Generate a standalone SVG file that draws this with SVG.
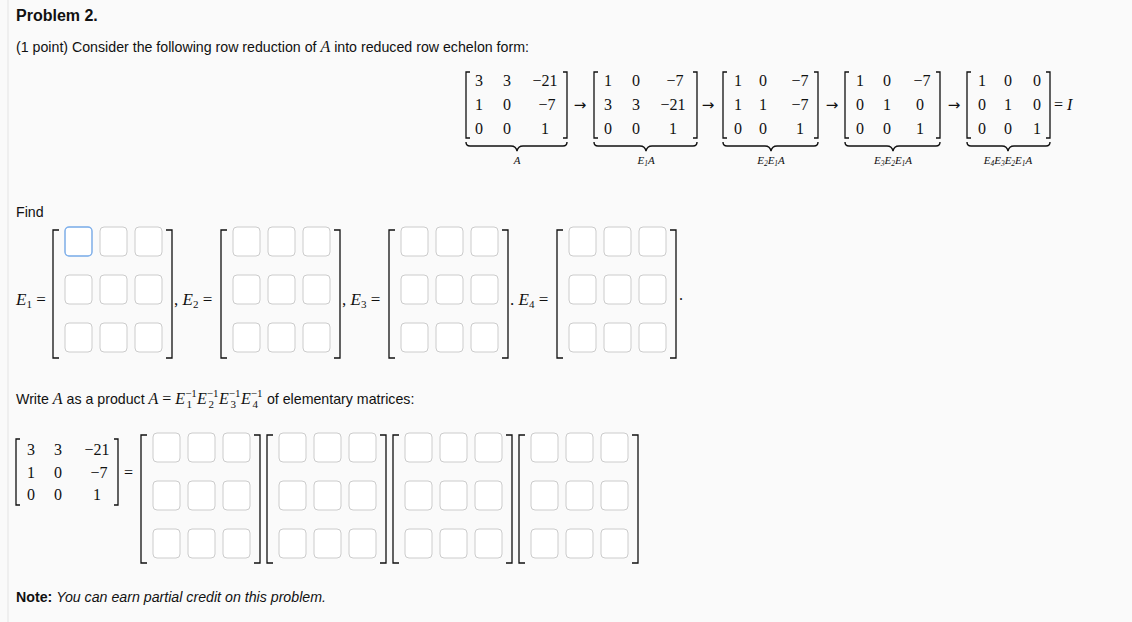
<svg xmlns="http://www.w3.org/2000/svg" width="1132" height="622" viewBox="0 0 1132 622">
<defs>
<style>
.s{font-family:"Liberation Sans",Arial,sans-serif;font-size:14.2px;fill:#111}
.m{font-family:"Liberation Serif","Times New Roman",serif;font-size:16px;fill:#111}
.mi{font-family:"Liberation Serif","Times New Roman",serif;font-size:17px;font-style:italic;fill:#111}
.lb{font-family:"Liberation Serif","Times New Roman",serif;font-size:11px;font-style:italic;fill:#111}
.ar{font-family:"DejaVu Sans",sans-serif;font-size:15px;fill:#111}
.br{fill:none;stroke:#111;stroke-width:1.3}
.bx{fill:#fff;stroke:#ccc;stroke-width:1}
.brace{fill:none;stroke:#111;stroke-width:1.4}
</style>
<g id="bx3">
<rect class="bx" x="0" y="0" width="27" height="29" rx="4"/><rect class="bx" x="35" y="0" width="27" height="29" rx="4"/><rect class="bx" x="70" y="0" width="27" height="29" rx="4"/>
<rect class="bx" x="0" y="48" width="27" height="29" rx="4"/><rect class="bx" x="35" y="48" width="27" height="29" rx="4"/><rect class="bx" x="70" y="48" width="27" height="29" rx="4"/>
<rect class="bx" x="0" y="96" width="27" height="29" rx="4"/><rect class="bx" x="35" y="96" width="27" height="29" rx="4"/><rect class="bx" x="70" y="96" width="27" height="29" rx="4"/>
</g>
<g id="bb">
<path class="br" d="M6,0 H0 V128 H6"/>
<path class="br" d="M113,0 H119 V128 H113"/>
</g>
</defs>
<rect width="1132" height="622" fill="#fafafa"/>
<line x1="8" y1="0" x2="8" y2="622" stroke="#e4e4e4"/>
<text class="s" x="16" y="21" font-weight="bold" style="font-size:16px">Problem 2.</text>
<text class="s" x="16" y="52">(1 point) Consider the following row reduction of <tspan class="mi" style="font-size:16px">A</tspan> into reduced row echelon form:</text>

<g id="top">
<g id="mA">
<path class="br" d="M470,72 H466 V138 H470 M563,72 H567 V138 H563"/>
<text class="m" text-anchor="middle"><tspan x="479" y="86">3</tspan><tspan x="507" y="86">3</tspan><tspan x="545" y="86">−21</tspan><tspan x="479" y="110">1</tspan><tspan x="507" y="110">0</tspan><tspan x="547" y="110">−7</tspan><tspan x="479" y="134">0</tspan><tspan x="507" y="134">0</tspan><tspan x="545" y="134">1</tspan></text>
<path class="brace" d="M466,142 q0,4 4,4 H511 q5,0 6,5 q1,-5 6,-5 H563 q4,0 4,-4"/>
<text class="lb" x="517" y="164" text-anchor="middle">A</text>
</g>
<text class="ar" x="580" y="110" text-anchor="middle">→</text>
<g id="mE1A">
<path class="br" d="M598,72 H594 V138 H598 M693,72 H697 V138 H693"/>
<text class="m" text-anchor="middle"><tspan x="608" y="86">1</tspan><tspan x="636" y="86">0</tspan><tspan x="675" y="86">−7</tspan><tspan x="608" y="110">3</tspan><tspan x="636" y="110">3</tspan><tspan x="673" y="110">−21</tspan><tspan x="608" y="134">0</tspan><tspan x="636" y="134">0</tspan><tspan x="673" y="134">1</tspan></text>
<path class="brace" d="M594,142 q0,4 4,4 H640 q5,0 6,5 q1,-5 6,-5 H693 q4,0 4,-4"/>
<text class="lb" x="646" y="164" text-anchor="middle">E<tspan style="font-size:7.5px" dy="2">1</tspan><tspan dy="-2">A</tspan></text>
</g>
<text class="ar" x="708" y="110" text-anchor="middle">→</text>
<g id="mE2E1A">
<path class="br" d="M727,72 H723 V138 H727 M814,72 H818 V138 H814"/>
<text class="m" text-anchor="middle"><tspan x="738" y="86">1</tspan><tspan x="763" y="86">0</tspan><tspan x="800" y="86">−7</tspan><tspan x="738" y="110">1</tspan><tspan x="763" y="110">1</tspan><tspan x="800" y="110">−7</tspan><tspan x="738" y="134">0</tspan><tspan x="763" y="134">0</tspan><tspan x="800" y="134">1</tspan></text>
<path class="brace" d="M723,142 q0,4 4,4 H765 q5,0 6,5 q1,-5 6,-5 H814 q4,0 4,-4"/>
<text class="lb" x="771" y="164" text-anchor="middle">E<tspan style="font-size:7.5px" dy="2">2</tspan><tspan dy="-2">E</tspan><tspan style="font-size:7.5px" dy="2">1</tspan><tspan dy="-2">A</tspan></text>
</g>
<text class="ar" x="832" y="110" text-anchor="middle">→</text>
<g id="mE3">
<path class="br" d="M849,72 H845 V138 H849 M936,72 H940 V138 H936"/>
<text class="m" text-anchor="middle"><tspan x="860" y="86">1</tspan><tspan x="887" y="86">0</tspan><tspan x="922" y="86">−7</tspan><tspan x="860" y="110">0</tspan><tspan x="887" y="110">1</tspan><tspan x="920" y="110">0</tspan><tspan x="860" y="134">0</tspan><tspan x="887" y="134">0</tspan><tspan x="920" y="134">1</tspan></text>
<path class="brace" d="M845,142 q0,4 4,4 H887 q5,0 6,5 q1,-5 6,-5 H936 q4,0 4,-4"/>
<text class="lb" x="893" y="164" text-anchor="middle">E<tspan style="font-size:7.5px" dy="2">3</tspan><tspan dy="-2">E</tspan><tspan style="font-size:7.5px" dy="2">2</tspan><tspan dy="-2">E</tspan><tspan style="font-size:7.5px" dy="2">1</tspan><tspan dy="-2">A</tspan></text>
</g>
<text class="ar" x="954" y="110" text-anchor="middle">→</text>
<g id="mI">
<path class="br" d="M971,72 H967 V138 H971 M1046,72 H1050 V138 H1046"/>
<text class="m" text-anchor="middle"><tspan x="982" y="86">1</tspan><tspan x="1008" y="86">0</tspan><tspan x="1037" y="86">0</tspan><tspan x="982" y="110">0</tspan><tspan x="1008" y="110">1</tspan><tspan x="1037" y="110">0</tspan><tspan x="982" y="134">0</tspan><tspan x="1008" y="134">0</tspan><tspan x="1037" y="134">1</tspan></text>
<path class="brace" d="M967,142 q0,4 4,4 H1002 q5,0 6,5 q1,-5 6,-5 H1046 q4,0 4,-4"/>
<text class="lb" x="1008" y="164" text-anchor="middle">E<tspan style="font-size:7.5px" dy="2">4</tspan><tspan dy="-2">E</tspan><tspan style="font-size:7.5px" dy="2">3</tspan><tspan dy="-2">E</tspan><tspan style="font-size:7.5px" dy="2">2</tspan><tspan dy="-2">E</tspan><tspan style="font-size:7.5px" dy="2">1</tspan><tspan dy="-2">A</tspan></text>
</g>
<text class="m" x="1054" y="110" style="font-size:16px">= <tspan font-style="italic">I</tspan></text>
</g>

<text class="s" x="16" y="217">Find</text>
<g id="E1"><text class="mi" x="16" y="305">E<tspan style="font-size:11px;font-style:normal" dy="3">1</tspan><tspan dy="-3" font-style="normal"> =</tspan></text>
<use href="#bb" x="53" y="230"/><use href="#bx3" x="65" y="227"/>
<rect x="65" y="227" width="27" height="29" rx="4" fill="none" stroke="#7fb2f0" stroke-width="1.4"/></g>
<g id="E2"><text class="mi" x="174" y="305"><tspan font-style="normal">, </tspan>E<tspan style="font-size:11px;font-style:normal" dy="3">2</tspan><tspan dy="-3" font-style="normal"> =</tspan></text>
<use href="#bb" x="221" y="230"/><use href="#bx3" x="233" y="227"/></g>
<g id="E3"><text class="mi" x="342" y="305"><tspan font-style="normal">, </tspan>E<tspan style="font-size:11px;font-style:normal" dy="3">3</tspan><tspan dy="-3" font-style="normal"> =</tspan></text>
<use href="#bb" x="389" y="230"/><use href="#bx3" x="401" y="227"/></g>
<g id="E4"><text class="mi" x="510" y="305"><tspan font-style="normal">. </tspan>E<tspan style="font-size:11px;font-style:normal" dy="3">4</tspan><tspan dy="-3" font-style="normal"> =</tspan></text>
<use href="#bb" x="557" y="230"/><use href="#bx3" x="569" y="227"/>
<text class="m" x="679" y="300">.</text></g>

<text class="s" x="16" y="404">Write <tspan class="mi" style="font-size:16px">A</tspan> as a product <tspan class="mi" style="font-size:16px">A</tspan><tspan class="m" style="font-size:16px"> = </tspan><tspan class="mi" style="font-size:16px">E</tspan><tspan class="m" style="font-size:11px" dy="-7">−1</tspan><tspan class="m" style="font-size:11px" dx="-10" dy="11">1</tspan><tspan class="mi" style="font-size:16px" dx="5" dy="-4">E</tspan><tspan class="m" style="font-size:11px" dy="-7">−1</tspan><tspan class="m" style="font-size:11px" dx="-10" dy="11">2</tspan><tspan class="mi" style="font-size:16px" dx="5" dy="-4">E</tspan><tspan class="m" style="font-size:11px" dy="-7">−1</tspan><tspan class="m" style="font-size:11px" dx="-10" dy="11">3</tspan><tspan class="mi" style="font-size:16px" dx="5" dy="-4">E</tspan><tspan class="m" style="font-size:11px" dy="-7">−1</tspan><tspan class="m" style="font-size:11px" dx="-10" dy="11">4</tspan><tspan dx="9" dy="-4">of elementary matrices:</tspan></text>

<g id="Abottom">
<path class="br" d="M20,439 H16 V505 H20 M114,439 H118 V505 H114"/>
<text class="m" text-anchor="middle"><tspan x="31" y="455">3</tspan><tspan x="58" y="455">3</tspan><tspan x="97" y="455">−21</tspan><tspan x="31" y="478">1</tspan><tspan x="58" y="478">0</tspan><tspan x="99" y="478">−7</tspan><tspan x="31" y="500">0</tspan><tspan x="58" y="500">0</tspan><tspan x="97" y="500">1</tspan></text>
<text class="m" x="124" y="478" style="font-size:16px">=</text>
</g>
<g id="P1"><use href="#bb" x="141" y="435"/><use href="#bx3" x="153" y="433"/></g>
<g id="P2"><use href="#bb" x="267" y="435"/><use href="#bx3" x="279" y="433"/></g>
<g id="P3"><use href="#bb" x="393" y="435"/><use href="#bx3" x="405" y="433"/></g>
<g id="P4"><use href="#bb" x="519" y="435"/><use href="#bx3" x="531" y="433"/></g>

<text class="s" x="16" y="602"><tspan font-weight="bold">Note:</tspan> <tspan font-style="italic">You can earn partial credit on this problem.</tspan></text>
</svg>
